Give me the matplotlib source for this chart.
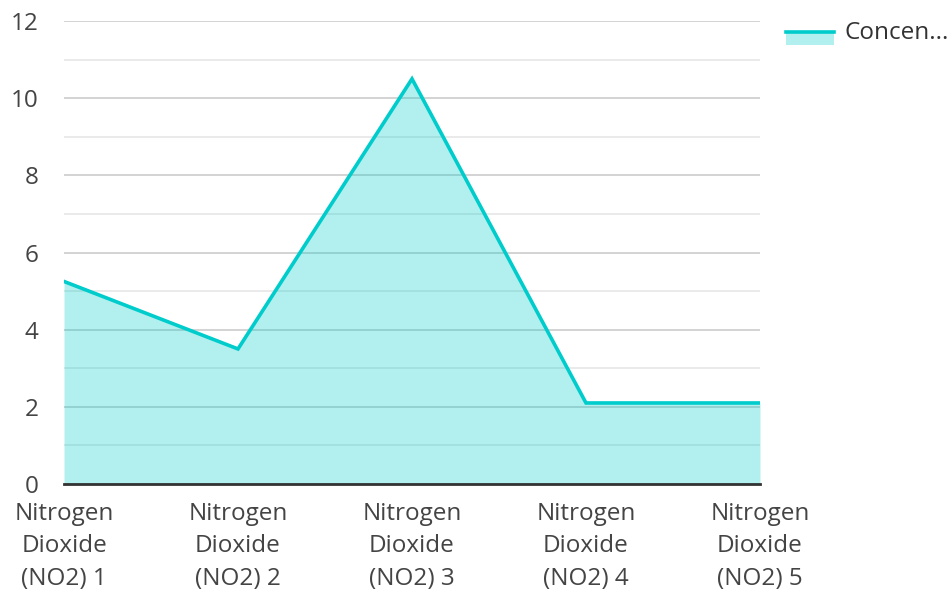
import matplotlib.pyplot as plt
from matplotlib.lines import Line2D
from matplotlib.patches import Rectangle
import numpy as np

plt.rcParams['font.family'] = ['Open Sans', 'DejaVu Sans']

categories = ['Nitrogen\nDioxide\n(NO2) 1', 'Nitrogen\nDioxide\n(NO2) 2',
              'Nitrogen\nDioxide\n(NO2) 3', 'Nitrogen\nDioxide\n(NO2) 4',
              'Nitrogen\nDioxide\n(NO2) 5']
values = [5.25, 3.5, 10.5, 2.1, 2.1]
series_name = 'Concen...'

line_color = '#00cccc'
fs = 17.5

fig = plt.figure(figsize=(9.52, 5.89), dpi=100)
ax = fig.add_axes([64 / 952, 1 - 484 / 589, (760 - 64) / 952, (484 - 21) / 589])

x = np.arange(len(values))

# grid first, then translucent fill over it
ax.set_yticks(np.arange(0, 13, 2))
ax.set_yticks(np.arange(1, 12, 2), minor=True)
ax.grid(axis='y', which='major', color='#cccccc', linewidth=1.2)
ax.grid(axis='y', which='minor', color='#e6e6e6', linewidth=1.2)
ax.set_axisbelow(True)

ax.fill_between(x, values, 0, color=line_color, alpha=0.3, linewidth=0, zorder=2)
ax.plot(x, values, color=line_color, linewidth=2.6, zorder=3, solid_joinstyle='miter')

ax.set_xlim(0, len(values) - 1)
ax.set_ylim(0, 12)
ax.set_xticks(x)
ax.set_xticklabels(categories, linespacing=1.46)

for side in ['left', 'right', 'top']:
    ax.spines[side].set_visible(False)
ax.spines['bottom'].set_color('#333333')
ax.spines['bottom'].set_linewidth(2)
ax.spines['bottom'].set_zorder(4)

ax.tick_params(axis='both', which='both', length=0, labelsize=fs, labelcolor='#444444')
ax.tick_params(axis='y', pad=18.5)
ax.tick_params(axis='x', pad=13)
for lbl in ax.get_yticklabels():
    lbl.set_horizontalalignment('right')

# legend drawn by hand in figure pixels
fig.add_artist(Rectangle((786 / 952, 1 - 45 / 589), 48 / 952, 13 / 589,
                         transform=fig.transFigure, color=line_color, alpha=0.3, lw=0))
fig.add_artist(Line2D([786 / 952, 834 / 952], [1 - 32 / 589, 1 - 32 / 589],
                      transform=fig.transFigure, color=line_color, linewidth=2.6))
fig.text(845 / 952, 1 - 33 / 589, series_name, fontsize=fs, color='#333333',
         va='center', ha='left')

fig.savefig('out.png', dpi=100)
